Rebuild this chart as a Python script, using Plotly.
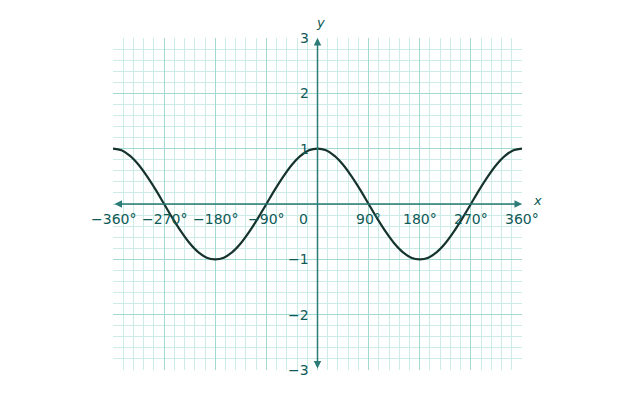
import plotly.graph_objects as go

# Curve values (degrees, y)
x_deg = [-360, -345, -330, -315, -300, -285, -270, -255, -240, -225, -210, -195,
         -180, -165, -150, -135, -120, -105, -90, -75, -60, -45, -30, -15,
         0, 15, 30, 45, 60, 75, 90, 105, 120, 135, 150, 165,
         180, 195, 210, 225, 240, 255, 270, 285, 300, 315, 330, 345, 360]
y_val = [1.0, 0.97, 0.87, 0.71, 0.5, 0.26, 0.0, -0.26, -0.5, -0.71, -0.87, -0.97,
         -1.0, -0.97, -0.87, -0.71, -0.5, -0.26, 0.0, 0.26, 0.5, 0.71, 0.87, 0.97,
         1.0, 0.97, 0.87, 0.71, 0.5, 0.26, 0.0, -0.26, -0.5, -0.71, -0.87, -0.97,
         -1.0, -0.97, -0.87, -0.71, -0.5, -0.26, 0.0, 0.26, 0.5, 0.71, 0.87, 0.97, 1.0]

x_ticks = [-360, -270, -180, -90, 90, 180, 270, 360]
x_tick_labels = ["−360°", "−270°", "−180°", "−90°", "90°", "180°", "270°", "360°"]
y_ticks = [3, 2, 1, -1, -2, -3]
y_tick_labels = ["3", "2", "1", "−1", "−2", "−3"]

TEXT = "#0f5b57"
AXIS = "#2b7b76"
MAJOR = "#a3d9d1"
MINOR = "#cdece7"
CURVE = "#16332d"
FONT = "DejaVu Sans"

fig = go.Figure()
fig.add_trace(go.Scatter(x=x_deg, y=y_val, mode="lines",
                         line=dict(color=CURVE, width=2.2, shape="spline"),
                         hoverinfo="skip", showlegend=False))

ann = []
# axes with arrowheads at both ends
ann.append(dict(x=360, y=0, ax=-360, ay=0, xref="x", yref="y", axref="x", ayref="y",
                showarrow=True, arrowhead=2, startarrowhead=2, arrowside="end+start",
                arrowsize=1, startarrowsize=1, arrowwidth=1.5, arrowcolor=AXIS, text=""))
ann.append(dict(x=0, y=3.0, ax=0, ay=-3.0, xref="x", yref="y", axref="x", ayref="y",
                showarrow=True, arrowhead=2, startarrowhead=2, arrowside="end+start",
                arrowsize=1, startarrowsize=1, arrowwidth=1.5, arrowcolor=AXIS, text=""))

for xv, lab in zip(x_ticks, x_tick_labels):
    ann.append(dict(x=xv, y=0, xref="x", yref="y", text=lab, showarrow=False,
                    yshift=-15, xanchor="center", yanchor="middle",
                    font=dict(family=FONT, size=14, color=TEXT)))
ann.append(dict(x=0, y=0, xref="x", yref="y", text="0", showarrow=False,
                xshift=-14, yshift=-15, xanchor="center", yanchor="middle",
                font=dict(family=FONT, size=14, color=TEXT)))
for yv, lab in zip(y_ticks, y_tick_labels):
    ann.append(dict(x=0, y=yv, xref="x", yref="y", text=lab, showarrow=False,
                    xshift=-7, xanchor="right", yanchor="middle",
                    font=dict(family=FONT, size=14, color=TEXT)))
ann.append(dict(x=360, y=0, xref="x", yref="y", text="<i>x</i>", showarrow=False,
                xshift=15, yshift=4, xanchor="center", yanchor="middle",
                font=dict(family=FONT, size=13, color=TEXT)))
ann.append(dict(x=0, y=3, xref="x", yref="y", text="<i>y</i>", showarrow=False,
                xshift=3, yshift=16, xanchor="center", yanchor="middle",
                font=dict(family=FONT, size=13, color=TEXT)))

fig.update_layout(
    width=630, height=392,
    margin=dict(l=105, r=116, t=30, b=30),
    paper_bgcolor="white", plot_bgcolor="white",
    annotations=ann,
    xaxis=dict(range=[-360, 360], dtick=90, tick0=0, showgrid=True, gridcolor=MAJOR,
               gridwidth=1, zeroline=False, showticklabels=False, ticks="",
               showline=False, fixedrange=True,
               minor=dict(dtick=18, tick0=0, showgrid=True, gridcolor=MINOR, gridwidth=1)),
    yaxis=dict(range=[-3, 3], dtick=1, tick0=0, showgrid=True, gridcolor=MAJOR,
               gridwidth=1, zeroline=False, showticklabels=False, ticks="",
               showline=False, fixedrange=True,
               minor=dict(dtick=0.2, tick0=0, showgrid=True, gridcolor=MINOR, gridwidth=1)),
)

fig.write_html("out.html")
